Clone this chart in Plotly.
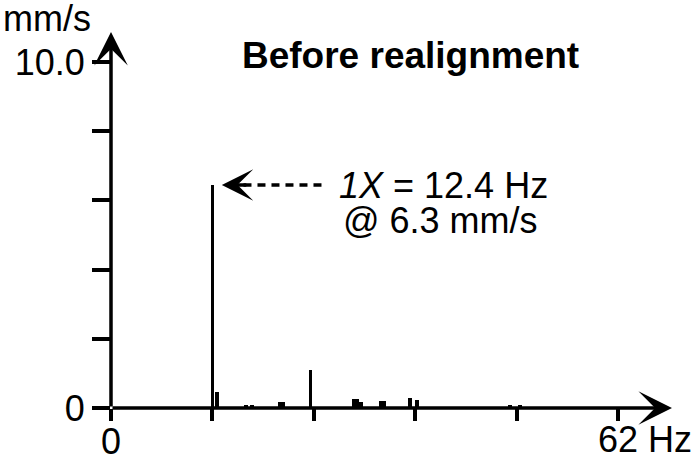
import plotly.graph_objects as go

# spectrum lines (Hz) and amplitudes (mm/s)
freq_hz = [12.4, 12.95, 16.5, 17.2, 20.65, 21.05, 24.4, 29.75, 30.15, 30.6,
           32.95, 33.35, 36.6, 37.45, 48.8, 50.0]
amp_mms = [6.45, 0.46, 0.1, 0.1, 0.17, 0.17, 1.1, 0.26, 0.26, 0.17,
           0.2, 0.2, 0.3, 0.24, 0.08, 0.08]

x_ticks = [0, 12.4, 24.8, 37.2, 49.6, 62]
y_ticks = [0, 2, 4, 6, 8, 10]
y_ticktext = ['0', '', '', '', '', '10.0']

X_MAX = 68.6
Y_MAX = 10.87
FONT = 'Liberation Sans, Arial, sans-serif'
LW = 3.5

# plot area in pixels: left 111, right 672, top 32, bottom 408
def px_x(p):
    return (p - 111) / 561

def px_y(p):
    return (408 - p) / 376

fig = go.Figure()
fig.add_trace(go.Bar(
    x=freq_hz, y=amp_mms,
    width=0.45,
    marker_color='black',
    marker_line_width=0,
    showlegend=False,
    hoverinfo='skip',
))

# dashed leader to the 1X peak
fig.add_shape(type='line', x0=16.2, x1=26.3, y0=6.45, y1=6.45,
              line=dict(color='black', width=LW, dash='8px,6px'))

annotations = [
    # axis arrows
    dict(x=X_MAX, y=0, ax=0, ay=0, xref='x', yref='y', axref='x', ayref='y',
         text='', showarrow=True, arrowhead=3, arrowsize=1.6, arrowwidth=LW,
         arrowcolor='black'),
    dict(x=0, y=Y_MAX, ax=0, ay=0, xref='x', yref='y', axref='x', ayref='y',
         text='', showarrow=True, arrowhead=3, arrowsize=1.6, arrowwidth=LW,
         arrowcolor='black'),
    # arrowhead pointing at the peak
    dict(x=13.55, y=6.45, ax=26, ay=0, xref='x', yref='y',
         text='', showarrow=True, arrowhead=3, arrowsize=1.5, arrowwidth=LW,
         arrowcolor='black'),
    # texts
    dict(x=px_x(410), y=px_y(56), xref='paper', yref='paper', showarrow=False,
         text='<b>Before realignment</b>', font=dict(size=37),
         xanchor='center', yanchor='middle'),
    dict(x=px_x(1), y=px_y(18), xref='paper', yref='paper', showarrow=False,
         text='mm/s', font=dict(size=36), xanchor='left', yanchor='middle'),
    dict(x=px_x(443), y=px_y(185), xref='paper', yref='paper', showarrow=False,
         text='<i>1X</i> = 12.4 Hz', font=dict(size=36),
         xanchor='center', yanchor='middle'),
    dict(x=px_x(440), y=px_y(220), xref='paper', yref='paper', showarrow=False,
         text='@ 6.3 mm/s', font=dict(size=36),
         xanchor='center', yanchor='middle'),
    dict(x=px_x(111), y=px_y(441), xref='paper', yref='paper', showarrow=False,
         text='0', font=dict(size=36), xanchor='center', yanchor='middle'),
    dict(x=px_x(596), y=px_y(440), xref='paper', yref='paper', showarrow=False,
         text='62 Hz', font=dict(size=36), xanchor='left', yanchor='middle'),
]

fig.update_layout(
    width=700, height=462,
    margin=dict(l=111, r=28, t=32, b=54),
    plot_bgcolor='white',
    paper_bgcolor='white',
    font=dict(family=FONT, color='black', size=36),
    bargap=0,
    annotations=annotations,
    xaxis=dict(
        range=[0, X_MAX], automargin=False,
        showgrid=False, zeroline=False, showline=False,
        tickmode='array', tickvals=x_ticks,
        ticks='outside', ticklen=12, tickwidth=LW, tickcolor='black',
        showticklabels=False, fixedrange=True,
    ),
    yaxis=dict(
        range=[0, Y_MAX], automargin=False,
        showgrid=False, zeroline=False, showline=False,
        tickmode='array', tickvals=y_ticks, ticktext=y_ticktext,
        ticks='outside', ticklen=18, tickwidth=LW, tickcolor='black',
        tickfont=dict(size=36), fixedrange=True,
    ),
)

# drop the browser's default 8px body margin so the figure sits at 0,0
fig.write_html("out.html",
               post_script="document.body.style.margin='0';",
               config={'displayModeBar': False})
